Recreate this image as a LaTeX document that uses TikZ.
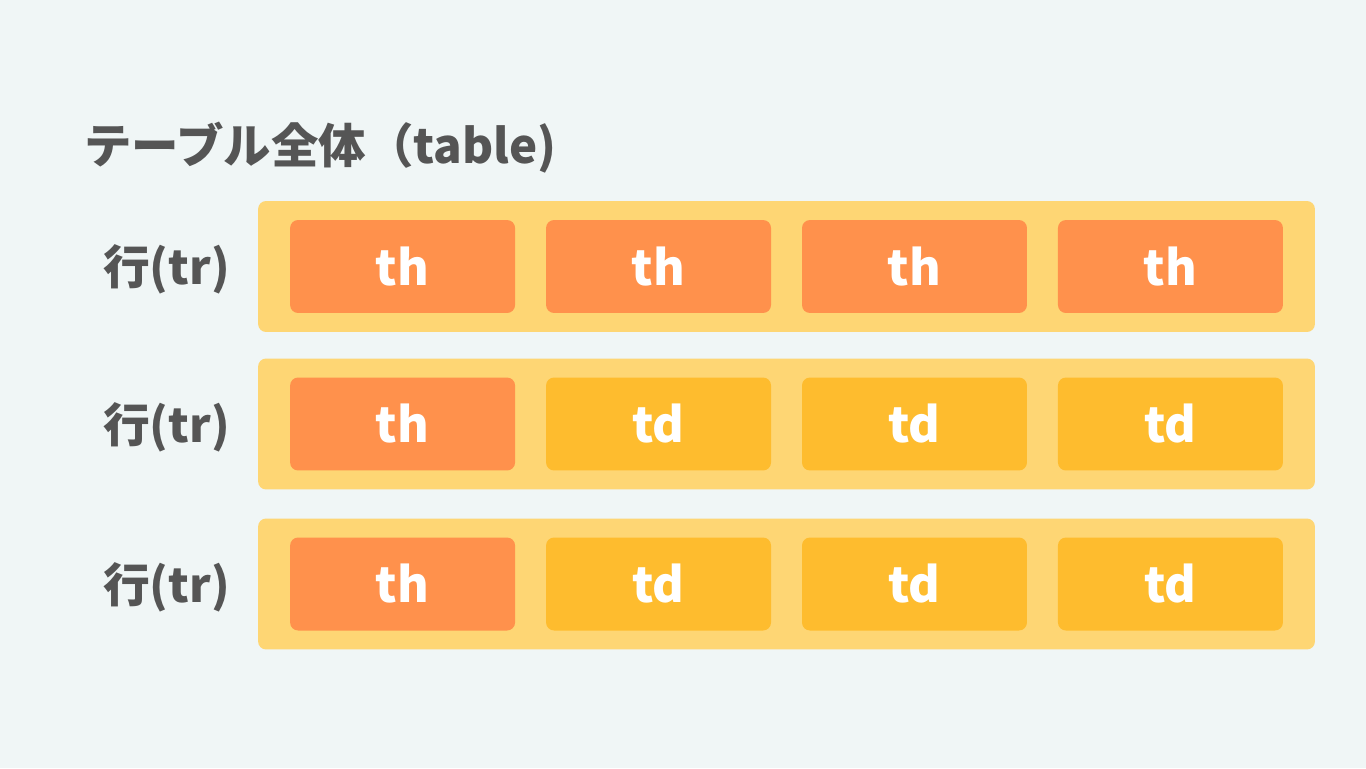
\documentclass[tikz,border=0pt]{standalone}
\usepackage{fontspec}
\setmainfont{Noto Sans CJK JP}
\usetikzlibrary{positioning}
\definecolor{bgcol}{HTML}{F0F6F6}
\definecolor{rowcol}{HTML}{FED674}
\definecolor{thcol}{HTML}{FF914C}
\definecolor{tdcol}{HTML}{FEBC2E}
\definecolor{txtcol}{HTML}{555555}
\tikzset{
  rowbox/.style={fill=rowcol,rounded corners=0.16cm,minimum width=21.14cm,minimum height=2.62cm,inner sep=0pt},
  cellbox/.style={rounded corners=0.16cm,minimum width=4.5cm,minimum height=1.86cm,inner sep=0pt,text=white,font=\bfseries\fontsize{27.5}{30}\selectfont},
  thcell/.style={cellbox,fill=thcol},
  tdcell/.style={cellbox,fill=tdcol},
  rowlabel/.style={text=txtcol,font=\bfseries\fontsize{26.6}{30}\selectfont},
}
\begin{document}
\begin{tikzpicture}[x=0.02cm,y=-0.02cm]
    \fill[bgcol] (0,0) rectangle (1366,768);
    \useasboundingbox (0,0) rectangle (1366,768);
    \node[text=txtcol,anchor=west,font=\bfseries\fontsize{27}{30}\selectfont,inner sep=0pt] (title) at (84,148) {テーブル全体（table)};
    \foreach \r/\y in {1/266.5,2/424,3/584}
    {
    \node[rowbox] (row\r) at (786.5,\y) {};
    \node[rowlabel] (lab\r) at (166.5,\y+3) {行(tr)};
    }
    % first column is header everywhere
    \foreach \r in {1,2,3}
    \node[thcell] (c\r1) at ([xshift=-7.68cm]row\r.center) {th};
    % rest of the first row
    \foreach \c/\dx in {2/-2.56cm,3/2.56cm,4/7.68cm}
    \node[thcell] (c1\c) at ([xshift=\dx]row1.center) {th};
    % data cells
    \foreach \r in {2,3}
    \foreach \c/\dx in {2/-2.56cm,3/2.56cm,4/7.68cm}
    \node[tdcell] (c\r\c) at ([xshift=\dx]row\r.center) {td};
\end{tikzpicture}
\end{document}
